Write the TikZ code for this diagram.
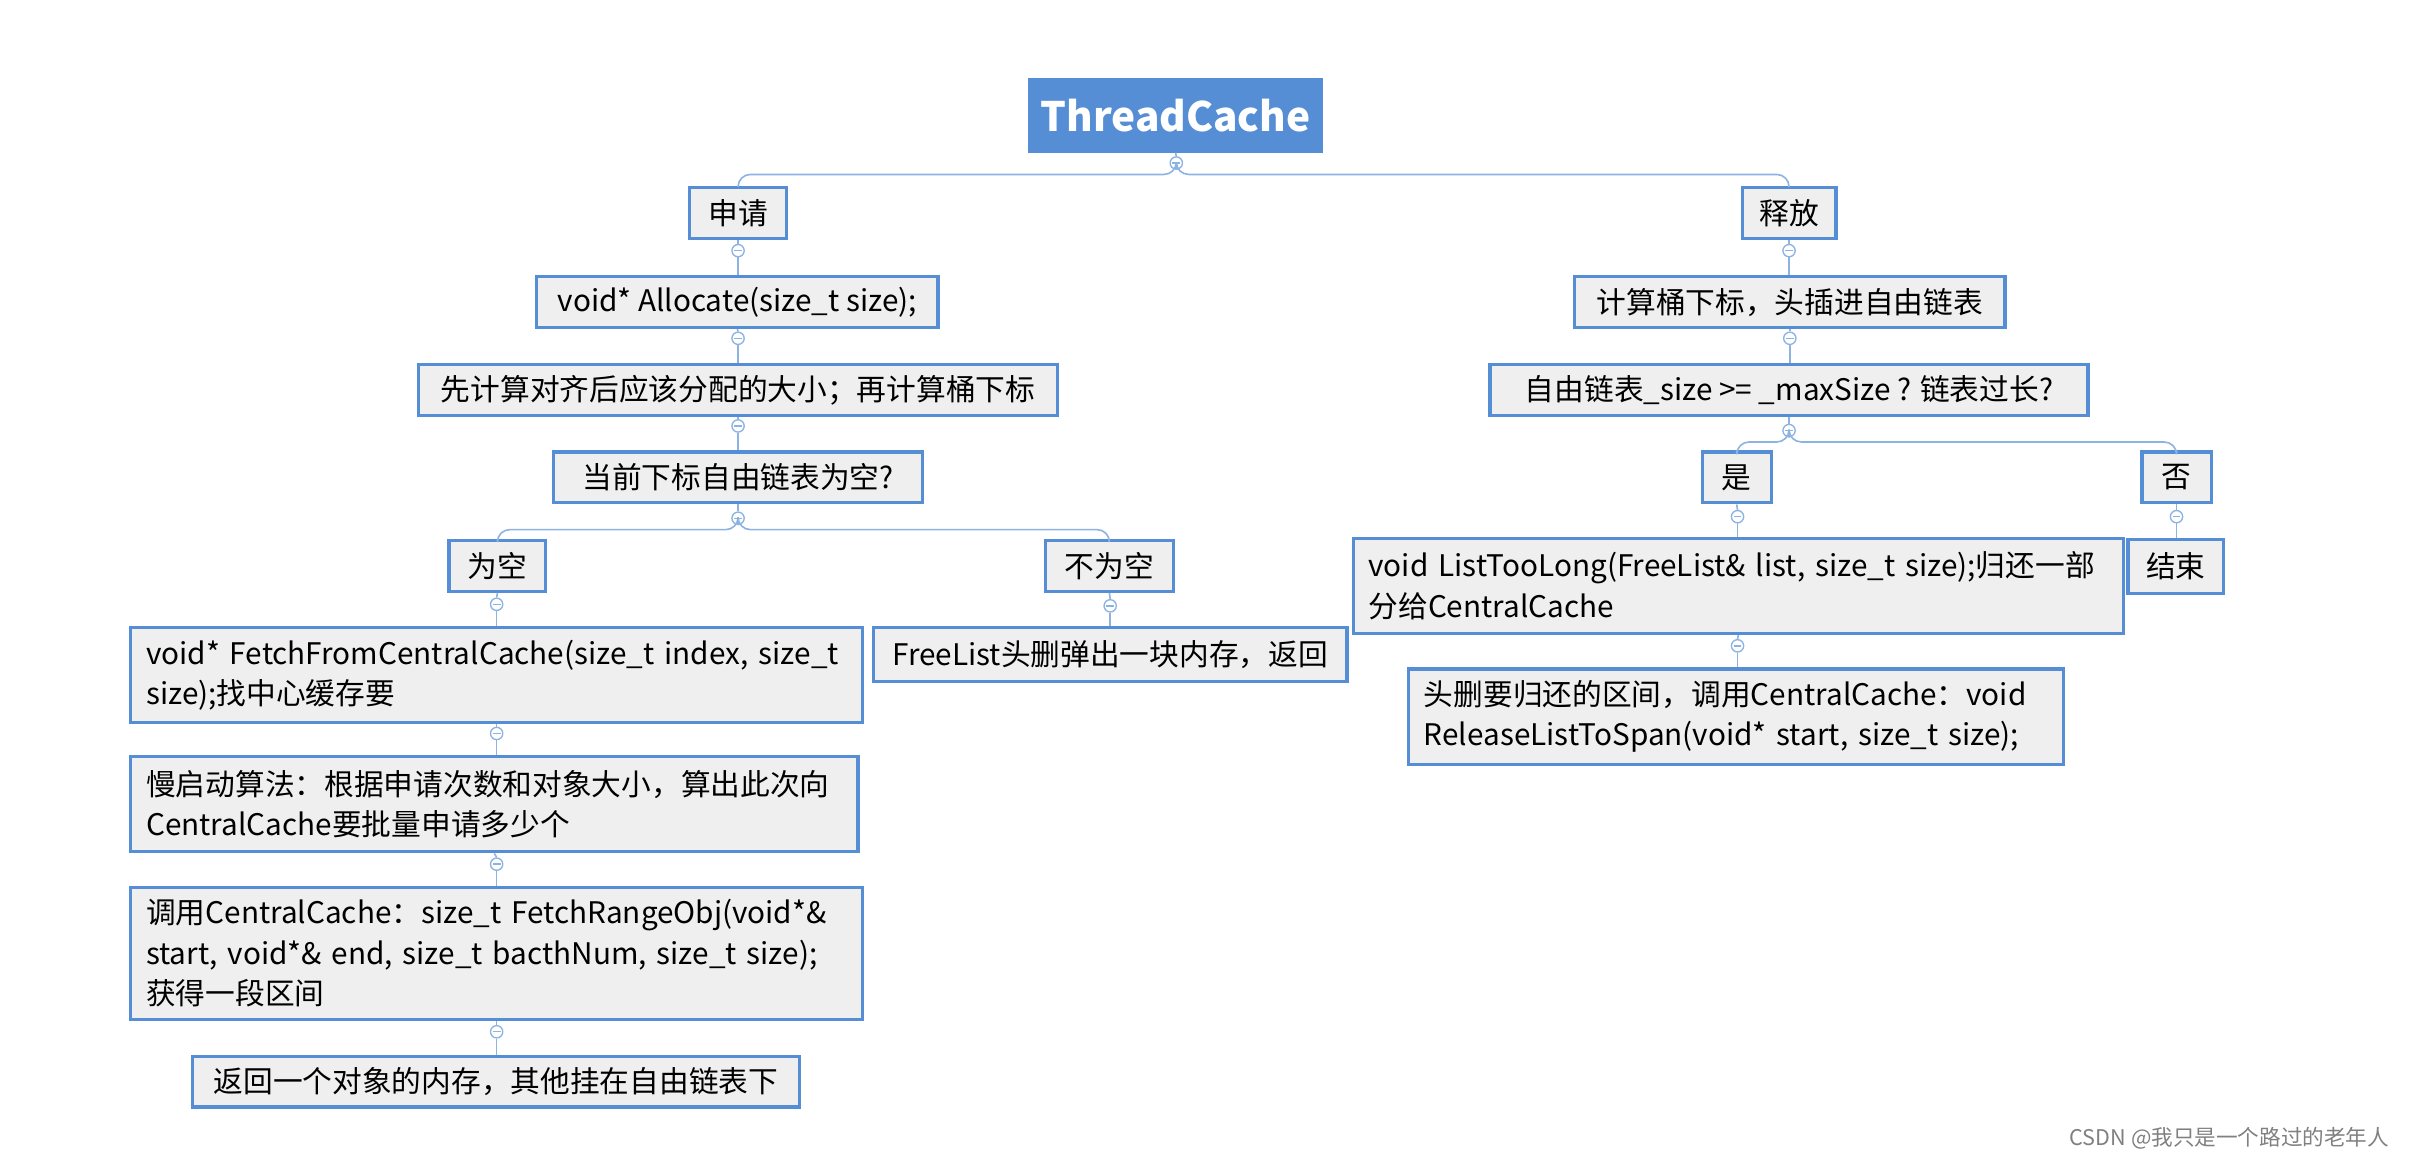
\documentclass[tikz,border=0pt]{standalone}
\usepackage{fontspec}
\setmainfont{Noto Sans CJK SC}
\definecolor{bl}{HTML}{558ED5}
\definecolor{cn}{HTML}{8DB3E2}
\definecolor{bg}{HTML}{EFEFEF}
\begin{document}
\begin{tikzpicture}[x=0.02cm,y=-0.02cm,
  box/.style={draw=bl,fill=bg,line width=1.2pt,inner xsep=0.2cm,inner ysep=0pt,minimum height=0.66cm,font=\fontsize{11}{15}\selectfont},
  wbox/.style 2 args={box,minimum width=#1cm,text width=#2cm,align=left},
  dot/.style={circle,draw=cn,fill=white,minimum size=0.16cm,inner sep=0pt,line width=0.5pt,
    path picture={\draw[cn,line width=0.5pt] ([xshift=-0.05cm]path picture bounding box.center)--([xshift=0.05cm]path picture bounding box.center);}},
  conn/.style={draw=cn,line width=0.6pt}]
\useasboundingbox (0,0) rectangle (1568,752);
\node[fill=bl,draw=bl,text=white,minimum width=3.82cm,minimum height=0.96cm,font=\fontsize{15}{18}\selectfont\bfseries] (tc) at (764.5,75) {ThreadCache};
\node[box,minimum width=1.26cm] (sq) at (480,138.5) {申请};
\node[box,minimum width=1.22cm] (sf) at (1163.5,138.5) {释放};
\node[box,minimum width=5.22cm] (al) at (479.5,196.5) {void* Allocate(size\_t size);};
\node[box,minimum width=8.32cm] (ca) at (480,253.5) {先计算对齐后应该分配的大小；再计算桶下标};
\node[box,minimum width=4.8cm] (cu) at (480,310.5) {当前下标自由链表为空?};
\node[box,minimum width=1.26cm] (ko) at (323.5,368) {为空};
\node[box,minimum width=1.66cm] (bk) at (721.5,368) {不为空};
\node[wbox={9.52}{9.12},minimum height=1.24cm] (fe) at (323,439) {void* FetchFromCentralCache(size\_t index, size\_t\\size);找中心缓存要};
\node[wbox={9.46}{9.06},minimum height=1.24cm] (sl) at (321.5,523) {慢启动算法：根据申请次数和对象大小，算出此次向\\CentralCache要批量申请多少个};
\node[wbox={9.52}{9.12},minimum height=1.72cm] (cl) at (323,620) {调用CentralCache：size\_t FetchRangeObj(void*\&\\start, void*\& end, size\_t bacthNum, size\_t size);\\获得一段区间};
\node[box,minimum width=7.9cm] (re) at (322.5,703.5) {返回一个对象的内存，其他挂在自由链表下};
\node[box,minimum width=6.16cm,minimum height=0.7cm] (po) at (722,425.5) {FreeList头删弹出一块内存，返回};
\node[box,minimum width=5.6cm] (ha) at (1164,196.5) {计算桶下标，头插进自由链表};
\node[box,minimum width=7.78cm] (sz) at (1163.5,253.5) {自由链表\_size >= \_maxSize ? 链表过长?};
\node[box,minimum width=0.9cm] (ye) at (1129.5,310.5) {是};
\node[box,minimum width=0.9cm] (no) at (1415.5,310.5) {否};
\node[wbox={10.02}{9.62},minimum height=1.24cm] (lt) at (1130.5,381) {void ListTooLong(FreeList\& list, size\_t size);归还一部\\分给CentralCache};
\node[box,minimum width=1.24cm,minimum height=0.7cm] (en) at (1415,368.5) {结束};
\node[wbox={8.52}{8.12},minimum height=1.24cm] (rl) at (1129,466) {头删要归还的区间，调用CentralCache：void\\ReleaseListToSpan(void* start, size\_t size);};
\node[text=gray,font=\fontsize{8}{10}\selectfont,anchor=east] (wm) at (1560,740) {CSDN @我只是一个路过的老年人};
% dots
\node[dot] (d0) at (765,106) {};
\node[dot] (d1) at (480,163) {};
\node[dot] (d2) at (480,220) {};
\node[dot] (d3) at (480,277) {};
\node[dot] (d4) at (480,337) {};
\node[dot] (d5) at (323,393) {};
\node[dot] (d6) at (323,477) {};
\node[dot] (d7) at (323,562) {};
\node[dot] (d8) at (323,671) {};
\node[dot] (d9) at (722,394) {};
\node[dot] (d10) at (1163.5,163) {};
\node[dot] (d11) at (1164,220) {};
\node[dot] (d12) at (1163.5,280) {};
\node[dot] (d13) at (1130,336) {};
\node[dot] (d14) at (1415.5,336) {};
\node[dot] (d15) at (1130,420) {};
% connectors
\foreach \p/\d in {tc/d0,sq/d1,al/d2,ca/d3,cu/d4,ko/d5,fe/d6,sl/d7,cl/d8,bk/d9,sf/d10,ha/d11,sz/d12,ye/d13,no/d14,lt/d15}
  \draw[conn] (\p.south) -- (\d.north);
\foreach \d/\c in {d1/al,d2/ca,d3/cu,d5/fe,d6/sl,d7/cl,d8/re,d9/po,d10/ha,d11/sz,d13/lt,d14/en,d15/rl}
  \draw[conn] (\d.south) -- (\d.south |- \c.north);
\foreach \d/\c in {d0/sq,d0/sf,d4/ko,d4/bk,d12/ye,d12/no}
  \draw[conn,rounded corners=0.16cm] (\d.south) -- ++(0,3) -| (\c.north);
\end{tikzpicture}
\end{document}
